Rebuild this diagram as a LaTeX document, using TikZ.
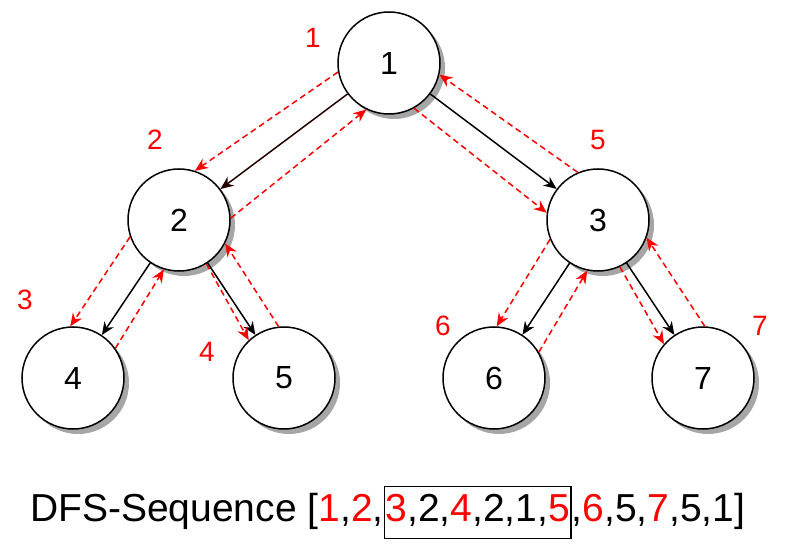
\documentclass[tikz,border=0pt]{standalone}
\usepackage{fontspec}
\setmainfont{Liberation Sans}
\usetikzlibrary{shadows,arrows.meta}
\begin{document}
\begin{tikzpicture}[x=1pt,y=-1pt,
  vert/.style={circle,draw,line width=1.5pt,fill=white,minimum size=102pt,inner sep=0pt,
    drop shadow={shadow xshift=5pt,shadow yshift=-5pt,fill=black!35,opacity=1}},
  tree/.style={line width=1.5pt,-{Stealth[length=13pt,width=11pt]}},
  walk/.style={red,line width=1.5pt,dash pattern=on 6pt off 4pt,-{Stealth[length=13pt,width=11pt]}},
  lab/.style={red,font=\fontsize{28}{30}\selectfont}]
\useasboundingbox (0,0) rectangle (788,548);
\node[vert] (n1) at (389,63) {\fontsize{32}{34}\selectfont 1};
\node[vert] (n2) at (179,220) {\fontsize{32}{34}\selectfont 2};
\node[vert] (n3) at (598,220) {\fontsize{32}{34}\selectfont 3};
\node[vert] (n4) at (73,378) {\fontsize{32}{34}\selectfont 4};
\node[vert] (n5) at (284,378) {\fontsize{32}{34}\selectfont 5};
\node[vert] (n6) at (494,378) {\fontsize{32}{34}\selectfont 6};
\node[vert] (n7) at (703,378) {\fontsize{32}{34}\selectfont 7};
\draw[tree,draw=black!85!red] (n1) -- (n2);
\draw[tree] (n1) -- (n3);
\draw[tree] (n2) -- (n4);
\draw[tree] (n2) -- (n5);
\draw[tree] (n3) -- (n6);
\draw[tree] (n3) -- (n7);
\draw[walk] (n1.190) -- (n2.72);
\draw[walk] (n2.2) -- (n1.244);
\draw[walk] (n1.299) -- (n3.172);
\draw[walk] (n3.113) -- (n1.347);
\draw[walk] (n2.199) -- (n4.93);
\draw[walk] (n4.35) -- (n2.253);
\draw[walk] (n2.302) -- (n5.133);
\draw[walk] (n5.96) -- (n2.333);
\draw[walk] (n3.202) -- (n6.87);
\draw[walk] (n6.30) -- (n3.258);
\draw[walk] (n3.295) -- (n7.139);
\draw[walk] (n7.88) -- (n3.340);
\node[lab] (l1) at (313,38) {1};
\node[lab] (l2) at (155,140) {2};
\node[lab] (l3) at (25,300) {3};
\node[lab] (l4) at (207,352) {4};
\node[lab] (l5) at (598,140) {5};
\node[lab] (l6) at (443,326) {6};
\node[lab] (l7) at (760,326) {7};
\node[font=\fontsize{39}{42}\selectfont,inner sep=0pt,anchor=base west] (sa) at (30,521)
  {DFS-Sequence [\textcolor{red}{1},\textcolor{red}{2},};
\node[font=\fontsize{39}{42}\selectfont,inner xsep=1pt,inner ysep=0pt,anchor=base west,draw,line width=1.5pt,
  minimum height=52pt,text depth=10pt] (sb) at (sa.base east)
  {\textcolor{red}{3},2,\textcolor{red}{4},2,1,\textcolor{red}{5}};
\node[font=\fontsize{39}{42}\selectfont,inner sep=0pt,anchor=base west] (sc) at (sb.base east)
  {,\textcolor{red}{6},5,\textcolor{red}{7},5,1]};
\end{tikzpicture}
\end{document}
